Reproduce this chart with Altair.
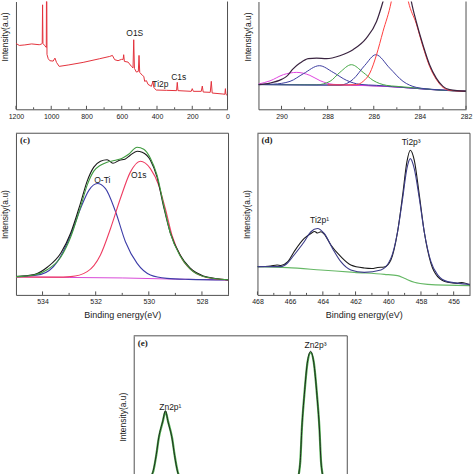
import altair as alt
import pandas as pd

FONT = "Liberation Sans"
AXC = "#505050"
TXT = "#1a1a1a"
YTITLE = "Intensity(a.u)"
XTITLE = "Binding energy(eV)"

# ---------------- (a) survey spectrum ----------------
A_EV = [1200, 1181, 1150, 1111, 1068, 1057, 1051, 1049, 1047, 1038, 1028, 1026, 1024, 1017, 1008, 989, 979, 970, 955, 900,
        819, 725, 668, 653, 640, 621, 602, 592, 589, 585, 564, 545, 536, 532, 528, 517, 506, 502, 498, 483,
        475, 470, 460, 451, 432, 423, 418, 413, 404, 347, 289, 285, 281, 206, 200, 194, 149, 143, 138, 98,
        92, 87, 26, 15, 12, 9, 0]
A_INT = [66, 64, 64.5, 65.5, 64.7, 65.3, 66, 104.7, 66, 64, 62, 160, 55, 50.7, 48.7, 48.3, 51.3, 47, 43, 44.5,
         47, 50.7, 53, 54, 49.7, 48.7, 50, 50, 54.7, 48, 47.3, 43, 41.5, 69.7, 41, 37.3, 38, 54, 37, 34,
         33, 28, 28.7, 25, 23, 28, 22, 20.7, 19.3, 19, 18.7, 27, 18.7, 18, 20.7, 18, 18, 23.3, 17.3, 17,
         28, 16.3, 15.3, 15, 20.7, 15, 13.7]
A_LAB = ["O1S", "Ti2p", "C1s"]
A_LAB_EV = [526, 381, 277]
A_LAB_INT = [76, 25.7, 32.3]
A_MAJOR = [1200, 1000, 800, 600, 400, 200, 0]
A_MINOR = [1100, 900, 700, 500, 300, 100]

# ---------------- (b) C1s ----------------
B_ENV_EV = [291.0, 290.5, 290.0, 289.78, 289.5, 289.2, 288.84, 288.48, 288.05, 287.47, 286.9, 286.32, 285.88, 285.6,
            285.3, 284.9, 284.6, 284.37, 284.16, 283.87, 283.58, 283.29, 283.0, 282.71, 282.3, 282.0]
B_ENV_INT = [24.7, 26.3, 30, 33, 40.5, 46.3, 50.7, 51.3, 50.7, 53.7, 59.7, 71.3, 88, 108,
             135, 165, 140, 108, 88, 64.7, 44.7, 31.3, 23, 19.7, 18.5, 18]
B_RED_EV = [288.0, 287.2, 286.75, 286.46, 286.17, 285.88, 285.6, 285.24, 284.88, 284.5, 284.16, 283.87, 283.58,
            283.29, 283.0, 282.71, 282.0]
B_RED_INT = [24.5, 24.4, 24.7, 28, 36.3, 54.7, 78, 108, 160, 108, 86, 63, 43, 30, 22, 19, 18]
B_MAG_EV = [291.0, 290.5, 289.92, 289.34, 288.77, 288.33, 287.76, 287.0, 285.5, 284.5, 283.5, 282.0]
B_MAG_INT = [25.3, 28.5, 34.7, 37, 34, 28.7, 25, 24.2, 23, 21.5, 19.8, 18.2]
B_BL1_EV = [291.0, 290.35, 289.63, 289.05, 288.36, 287.76, 287.18, 286.6, 285.88, 284.5, 283.5, 282.0]
B_BL1_INT = [24.8, 25.2, 28, 35.7, 43.7, 37, 29, 25, 24, 21.5, 19.8, 18.2]
B_GR_EV = [291.0, 288.48, 287.9, 287.47, 286.97, 286.46, 286.03, 285.45, 285.0, 284.0, 283.0, 282.0]
B_GR_INT = [24.8, 24.5, 28, 37, 44.7, 37, 29, 24, 23, 21, 19, 18.2]
B_BL2_EV = [291.0, 287.47, 286.9, 286.39, 285.91, 285.31, 284.73, 284.16, 283.3, 282.0]
B_BL2_INT = [24.8, 24.2, 30, 44, 54.7, 41.3, 28, 22, 19.7, 18.2]
B_BASE_EV = [291.0, 289.0, 287.0, 285.5, 284.5, 283.5, 282.5, 282.0]
B_BASE_INT = [24.8, 24.5, 24.2, 23, 21.5, 19.8, 18.5, 18.2]
B_MAJOR = [290, 288, 286, 284, 282]
B_MINOR = [289, 287, 285, 283]

# ---------------- (c) O1s ----------------
C_GR_EV = [535.0, 534.31, 533.81, 533.31, 532.94, 532.57, 532.32, 532.07, 531.82, 531.57, 531.25, 531.0, 530.76,
           530.44, 530.19, 529.94, 529.69, 529.44, 529.19, 528.82, 528.45, 527.95, 527.0]
C_GR_INT = [18.3, 20, 25.5, 38, 58, 88, 110, 124, 130, 133, 135, 137, 141, 148, 146, 137, 120, 90, 62, 39, 26, 18.5, 15.2]
C_BK_EV = [535.0, 534.31, 533.81, 533.31, 532.94, 532.57, 532.32, 532.07, 531.82, 531.57, 531.35, 531.1, 530.9,
           530.7, 530.44, 530.25, 529.94, 529.69, 529.44, 529.19, 528.82, 528.45, 527.95, 527.5, 527.0]
C_BK_INT = [18.5, 20.5, 28, 42, 62, 92, 114, 128, 134, 135.5, 132, 135, 136, 140, 144, 143, 135, 118, 88, 62,
            40, 27, 19, 16.5, 15]
C_BL_EV = [535.0, 534.06, 533.44, 532.94, 532.57, 532.25, 531.94, 531.63, 531.25, 530.88, 530.44, 529.94, 529.32, 528.5, 527.0]
C_BL_INT = [18, 20.6, 33.3, 60, 86.6, 105, 111.6, 106.6, 83.3, 53.3, 31.6, 20, 16.6, 15.6, 15]
C_RD_EV = [535.0, 533.5, 532.94, 532.32, 531.82, 531.44, 531.07, 530.69, 530.32, 529.94, 529.63, 529.38, 529.13,
           528.76, 528.32, 527.82, 527.0]
C_RD_INT = [18, 17.8, 18.3, 23.3, 40, 66.6, 96.6, 123.3, 134, 126.6, 110, 86.6, 60, 36.6, 23.3, 17.6, 15]
C_BASE_EV = [535.0, 533.0, 531.0, 529.0, 527.0]
C_BASE_INT = [18, 17.5, 17, 15.8, 15]
C_LAB = ["O-Ti", "O1s"]
C_LAB_EV = [531.75, 530.38]
C_LAB_INT = [115, 120]
C_MAJOR = [534, 532, 530, 528]
C_MINOR = [533, 531, 529]

# ---------------- (d) Ti2p ----------------
D_GR_EV = [468, 466.16, 464.12, 462.08, 460.24, 459.43, 459.02, 458.41, 457.59, 455]
D_GR_INT = [28.3, 27.3, 25, 22.6, 20.6, 19.3, 16.6, 12.6, 10.6, 9.3]
D_FIT_EV = [468, 466.57, 466.16, 465.76, 465.14, 464.73, 464.33, 463.92, 463.41, 462.9, 462.29, 461.47, 460.45,
            459.84, 459.43, 459.12, 458.86, 458.65, 458.41, 458.1, 457.8, 457.39, 456.98, 456.37, 455]
D_FIT_INT = [28.3, 28.3, 32, 40, 53.3, 63.3, 66.6, 61.6, 46.6, 33.3, 25, 22.6, 25, 36.6, 63.3, 96.6, 126.6, 136.6,
             126.6, 96.6, 63.3, 33.3, 20, 13.3, 10.6]
D_DAT_EV = [468, 467.2, 466.8, 466.57, 466.16, 465.76, 465.14, 464.73, 464.5, 464.33, 464.12, 463.92, 463.51, 462.9,
            462.29, 461.47, 461.0, 460.65, 460.24, 459.84, 459.43, 459.12, 458.86, 458.65, 458.41, 458.1, 457.8,
            457.39, 456.98, 456.37, 455.76, 455.5, 455]
D_DAT_INT = [28.3, 29, 30, 29.5, 33, 43.3, 56.6, 61.6, 63.5, 62, 63.3, 61, 50, 38.3, 30, 27, 26.5, 27.5, 28, 35,
             63.3, 100, 133.3, 145, 135, 100, 63.3, 31.6, 18.3, 12.6, 11.6, 12.5, 10]
D_LAB = ["Ti2p\u00b9", "Ti2p\u00b3"]
D_LAB_EV = [464.2, 458.6]
D_LAB_INT = [75, 153]
D_MAJOR = [468, 466, 464, 462, 460, 458, 456]
D_MINOR = [467, 465, 463, 461, 459, 457]

# ---------------- (e) Zn2p ----------------
E_EV = [1050, 1048.5, 1047.5, 1046.8, 1046.3, 1045.9, 1045.24, 1044.8, 1044.36, 1043.7, 1043.3, 1042.8, 1042, 1041,
        1035, 1028, 1025, 1023.6, 1022.9, 1022.7, 1022.44, 1022.04, 1021.5, 1021.0, 1020.5, 1019.96, 1019.56,
        1019.3, 1019.1, 1018.4, 1017, 1015]
E_FIT = [14, 15, 18, 26, 42.6, 59.3, 76, 86, 76, 59.3, 42.6, 26, 16, 13, 11, 9, 8, 10, 25, 36, 69.3, 102.6, 136,
         145.3, 136, 102.6, 69.3, 36, 25, 10, 6, 5]
E_DAT = [14, 15.5, 18.5, 27, 43, 60, 76.5, 87, 75.5, 58.5, 42, 25.5, 16, 13, 11, 9, 8, 10.5, 25.5, 37, 70, 103, 137,
         146.5, 135.5, 102, 68.5, 35.5, 24.5, 10, 6, 5]
E_LAB = ["Zn2p\u00b9", "Zn2p\u00b3"]
E_LAB_EV = [1044.0, 1020.2]
E_LAB_INT = [91, 153]


def panel(curves, xdom, ydom, W, H, major=None, minor=None, labels=None, tag=None,
          xtitle=None, show_x=True, interp="monotone", title_y=None, top_frame=True, lab_size=8.5):
    xs = alt.Scale(domain=xdom, reverse=True, nice=False, zero=False)
    ys = alt.Scale(domain=ydom, nice=False, zero=False)
    if show_x:
        xkw = dict(values=major, format="d", ticks=False, grid=False, domain=True, domainColor=AXC,
                   domainWidth=1, labelFont=FONT, labelFontSize=7, labelColor=TXT, labelPadding=3,
                   labelFlush=False, labelOverlap=False, title=xtitle if xtitle else "")
        if xtitle:
            xkw.update(titleFont=FONT, titleFontSize=9, titleFontWeight="normal", titleColor=TXT, titlePadding=6)
        xaxis = alt.Axis(**xkw)
    else:
        xaxis = None
    ykw = dict(title=YTITLE, labels=False, ticks=False, grid=False, domain=True, domainColor=AXC, domainWidth=1,
               titleFont=FONT, titleFontSize=8.5, titleFontWeight="normal", titleColor=TXT, titlePadding=6)
    if title_y is not None:
        ykw["titleY"] = title_y
    yaxis = alt.Axis(**ykw)

    layers = []
    for evs, hs, color, sw in curves:
        df = pd.DataFrame({"ev": evs, "h": hs})
        layers.append(
            alt.Chart(df).mark_line(color=color, strokeWidth=sw, clip=True, interpolate=interp).encode(
                x=alt.X("ev:Q", scale=xs, axis=xaxis),
                y=alt.Y("h:Q", scale=ys, axis=yaxis),
            )
        )
    one = pd.DataFrame({"k": [0]})
    if major:
        layers.append(alt.Chart(pd.DataFrame({"ev": major})).mark_rule(color=AXC, strokeWidth=1).encode(
            x=alt.X("ev:Q", scale=xs, axis=xaxis), y=alt.value(H), y2=alt.value(H - 3.5)))
    if minor:
        layers.append(alt.Chart(pd.DataFrame({"ev": minor})).mark_rule(color=AXC, strokeWidth=1).encode(
            x=alt.X("ev:Q", scale=xs, axis=xaxis), y=alt.value(H), y2=alt.value(H - 2)))
    layers.append(alt.Chart(one).mark_rule(color=AXC, strokeWidth=1).encode(
        x=alt.value(W), y=alt.value(0), y2=alt.value(H)))
    if top_frame:
        layers.append(alt.Chart(one).mark_rule(color=AXC, strokeWidth=1).encode(
            x=alt.value(0), x2=alt.value(W), y=alt.value(0)))
    if labels:
        t, le, li = labels
        layers.append(alt.Chart(pd.DataFrame({"ev": le, "h": li, "t": t})).mark_text(
            font=FONT, fontSize=lab_size, color=TXT).encode(
            x=alt.X("ev:Q", scale=xs, axis=xaxis), y=alt.Y("h:Q", scale=ys, axis=yaxis), text="t:N"))
    if tag:
        layers.append(alt.Chart(pd.DataFrame({"t": [tag]})).mark_text(
            font="Liberation Serif", fontWeight="bold", fontSize=9, align="left", baseline="middle",
            color=TXT).encode(x=alt.value(4), y=alt.value(7), text="t:N"))
    return alt.layer(*layers).properties(width=W, height=H)


pa = panel([(A_EV, A_INT, "#e3323c", 1.0)], [0, 1200], [0, 108], 212, 108,
           A_MAJOR, A_MINOR, (A_LAB, A_LAB_EV, A_LAB_INT), interp="linear", title_y=35, top_frame=False)

pb = panel([
    (B_BASE_EV, B_BASE_INT, "#5a4a9a", 1.0),
    (B_MAG_EV, B_MAG_INT, "#e045e0", 1.0),
    (B_BL1_EV, B_BL1_INT, "#3d3da0", 1.0),
    (B_GR_EV, B_GR_INT, "#45a845", 1.0),
    (B_BL2_EV, B_BL2_INT, "#3d3da0", 1.0),
    (B_RED_EV, B_RED_INT, "#ff3d3d", 1.0),
    (B_ENV_EV, B_ENV_INT, "#3a2440", 1.2),
], [282, 291], [0, 108], 208, 108, B_MAJOR, B_MINOR, title_y=35, top_frame=False)

pc = panel([
    (C_BASE_EV, C_BASE_INT, "#d84ad8", 1.0),
    (C_BL_EV, C_BL_INT, "#3d3da8", 1.1),
    (C_RD_EV, C_RD_INT, "#ee3d62", 1.1),
    (C_BK_EV, C_BK_INT, "#1a1a1a", 1.1),
    (C_GR_EV, C_GR_INT, "#3f9a3f", 1.1),
], [527, 535], [0, 162], 213, 162, C_MAJOR, C_MINOR, (C_LAB, C_LAB_EV, C_LAB_INT), tag="(c)", xtitle=XTITLE)

pd_ = panel([
    (D_GR_EV, D_GR_INT, "#66b866", 1.1),
    (D_DAT_EV, D_DAT_INT, "#1a1a1a", 1.1),
    (D_FIT_EV, D_FIT_INT, "#3c3c88", 1.1),
], [455, 468], [0, 162], 213, 162, D_MAJOR, D_MINOR, (D_LAB, D_LAB_EV, D_LAB_INT), tag="(d)", xtitle=XTITLE)

pe = panel([
    (E_EV, E_FIT, "#4fae4f", 2.2),
    (E_EV, E_DAT, "#1a1a1a", 0.9),
], [1015, 1050], [0, 162], 214, 162, labels=(E_LAB, E_LAB_EV, E_LAB_INT), tag="(e)", show_x=False)

spacer = alt.Chart(pd.DataFrame({"k": [0]})).mark_point(opacity=0).encode(
    x=alt.value(0), y=alt.value(0)).properties(width=100, height=10)

row1 = alt.hconcat(pa, pb, spacing=14)
row2 = alt.hconcat(pc, pd_, spacing=13)
row3 = alt.hconcat(spacer, pe, spacing=3)

chart = alt.vconcat(row1, row2, row3, spacing=13).properties(
    padding={"left": 1, "top": 0, "right": 2, "bottom": 2}, background="white"
).configure_view(strokeWidth=0)

chart.save("out.html", embed_options={"renderer": "svg", "actions": False})
